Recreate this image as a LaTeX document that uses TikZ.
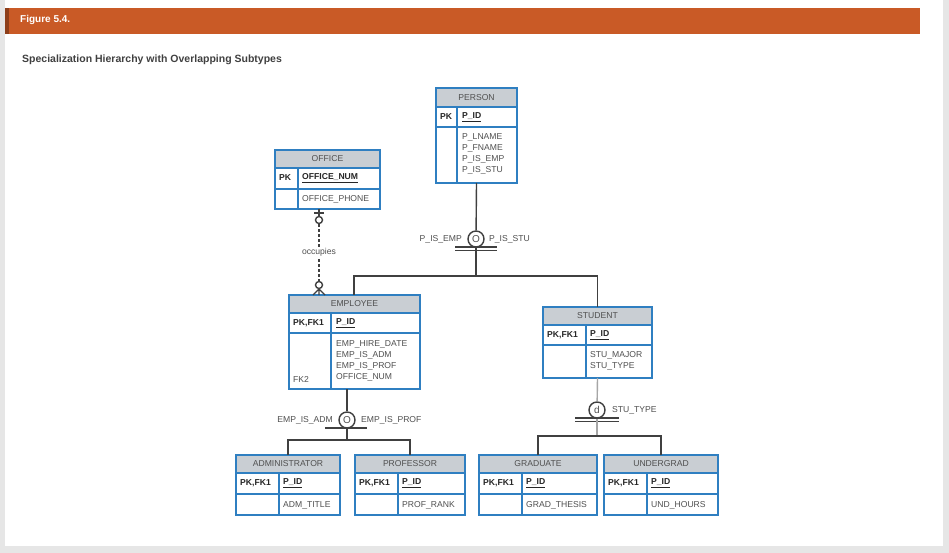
\documentclass[tikz,border=0pt]{standalone}
\usepackage{fontspec}
\setmainfont{Liberation Sans}
\usetikzlibrary{positioning}
\definecolor{eblue}{HTML}{2F7FC1}
\definecolor{ehead}{HTML}{C9CED3}
\definecolor{etxt}{HTML}{505050}
\definecolor{orng}{HTML}{C95A26}
\definecolor{lgray}{HTML}{E6E6E6}
\tikzset{
 box/.style={draw=eblue,line width=1.6pt},
 hdr/.style={fill=ehead},
 txt/.style={text=etxt,font=\fontsize{8.6}{11}\selectfont,inner sep=0pt},
 btxt/.style={txt,font=\fontsize{8.6}{11}\selectfont\bfseries,text=black!85},
 lnk/.style={draw=black!75,line width=1.4pt},
 circ/.style={circle,draw=black!75,line width=1.4pt,minimum size=16pt,inner sep=0pt,fill=white,text=etxt,font=\fontsize{10}{10}\selectfont},
 lbl/.style={txt,fill=white,inner sep=1pt}
}
\newcommand\myent[9]{%
 \fill[hdr] (#2,#3) rectangle (#4,#6);
 \draw[box] (#2,#3) rectangle (#4,#8);
 \draw[box] (#2,#6) -- (#4,#6) (#2,#7) -- (#4,#7) (#5,#6) -- (#5,#8);
 \node[txt] (#1) at ({(#2+#4)/2},{(#3+#6)/2}) {#9};
 \coordinate (#1-top) at ({(#2+#4)/2},#3);
 \coordinate (#1-bot) at ({(#2+#4)/2},#8);
}
\begin{document}
\begin{tikzpicture}[x=1pt,y=-1pt]
\useasboundingbox (0,0) rectangle (949,553);
\fill[lgray] (0,0) rectangle (949,553);
\fill[white] (5,0) rectangle (943,546);
\fill[orng] (5,8) rectangle (920,34);
\fill[orng!70!black] (5,8) rectangle (9,34);
\node[anchor=west,text=white,font=\fontsize{10}{10}\selectfont\bfseries,inner sep=0pt] (fig) at (20,20) {Figure 5.4.};
\node[anchor=west,text=black!75,font=\fontsize{10.5}{10.5}\selectfont\bfseries,inner sep=0pt] (ttl) at (22,60) {Specialization Hierarchy with Overlapping Subtypes};

\myent{person}{436}{88}{517}{457}{107}{127}{183}{PERSON}
\node[btxt,anchor=west] (p1) at (440,117) {PK};
\node[btxt,anchor=west] (p2) at (462,117) {\underline{P\_ID}};
\node[txt,anchor=north west,align=left] (p3) at (462,133) {P\_LNAME\\P\_FNAME\\P\_IS\_EMP\\P\_IS\_STU};
\myent{office}{275}{150}{380}{298}{168}{189}{209}{OFFICE}
\node[btxt,anchor=west] (o1) at (279,178) {PK};
\node[btxt,anchor=west] (o2) at (302,178) {\underline{OFFICE\_NUM}};
\node[txt,anchor=west] (o3) at (302,199) {OFFICE\_PHONE};
\myent{emp}{289}{295}{420}{331}{313}{333}{389}{EMPLOYEE}
\node[btxt,anchor=west] (e1) at (293,323) {PK,FK1};
\node[btxt,anchor=west] (e2) at (336,323) {\underline{P\_ID}};
\node[txt,anchor=north west,align=left] (e3) at (336,340) {EMP\_HIRE\_DATE\\EMP\_IS\_ADM\\EMP\_IS\_PROF\\OFFICE\_NUM};
\node[txt,anchor=west] (e4) at (293,379) {FK2};
\myent{stu}{543}{307}{652}{586}{325}{345}{378}{STUDENT}
\node[btxt,anchor=west] (s1) at (547,335) {PK,FK1};
\node[btxt,anchor=west] (s2) at (590,335) {\underline{P\_ID}};
\node[txt,anchor=north west,align=left] (s3) at (590,351) {STU\_MAJOR\\STU\_TYPE};
\myent{adm}{236}{455}{340}{279}{473}{494}{515}{ADMINISTRATOR}
\node[btxt,anchor=west] (a1) at (240,483) {PK,FK1};
\node[btxt,anchor=west] (a2) at (283,483) {\underline{P\_ID}};
\node[txt,anchor=west] (a3) at (283,505) {ADM\_TITLE};
\myent{prof}{355}{455}{465}{398}{473}{494}{515}{PROFESSOR}
\node[btxt,anchor=west] (r1) at (359,483) {PK,FK1};
\node[btxt,anchor=west] (r2) at (402,483) {\underline{P\_ID}};
\node[txt,anchor=west] (r3) at (402,505) {PROF\_RANK};
\myent{grad}{479}{455}{597}{522}{473}{494}{515}{GRADUATE}
\node[btxt,anchor=west] (g1) at (483,483) {PK,FK1};
\node[btxt,anchor=west] (g2) at (526,483) {\underline{P\_ID}};
\node[txt,anchor=west] (g3) at (526,505) {GRAD\_THESIS};
\myent{und}{604}{455}{718}{647}{473}{494}{515}{UNDERGRAD}
\node[btxt,anchor=west] (u1) at (608,483) {PK,FK1};
\node[btxt,anchor=west] (u2) at (651,483) {\underline{P\_ID}};
\node[txt,anchor=west] (u3) at (651,505) {UND\_HOURS};

\node[circ] (c1) at (476,239) {O};
\node[txt,anchor=east] (l1) at (462,239) {P\_IS\_EMP};
\node[txt,anchor=west] (l2) at (489,239) {P\_IS\_STU};
\draw[lnk] (person-bot) -- (c1);
\draw[lnk] (455,247) -- (497,247) (455,250.5) -- (497,250.5);
\coordinate (j1) at (476,276);
\draw[lnk] (c1) -- (j1);
\draw[lnk] (emp-top -| 354,0) |- (j1) -| (stu-top);

\draw[lnk,dash pattern=on 3pt off 2pt] (319,224) -- (319,281);
\draw[lnk] (314,213) -- (324,213) (319,209) -- (319,216);
\draw[lnk] (319,220) circle (3.5);
\draw[lnk] (319,285) circle (3.5);
\draw[lnk] (319,289) -- (319,295) (319,289) -- (313,295) (319,289) -- (325,295);
\node[lbl] (occ) at (319,252) {occupies};

\node[circ] (c2) at (347,420) {O};
\node[txt,anchor=east] (l3) at (333,420) {EMP\_IS\_ADM};
\node[txt,anchor=west] (l4) at (361,420) {EMP\_IS\_PROF};
\draw[lnk] (emp-bot -| 347,0) -- (c2);
\draw[lnk] (325,428) -- (367,428);
\coordinate (j2) at (347,440);
\draw[lnk] (c2) -- (j2);
\draw[lnk] (adm-top -| 288,0) |- (j2) -| (prof-top -| 410,0);

\node[circ] (c3) at (597,410) {d};
\node[txt,anchor=west] (l5) at (612,410) {STU\_TYPE};
\draw[lnk,draw=black!35] (stu-bot) -- (c3);
\draw[lnk] (575,418) -- (619,418) (575,421.5) -- (619,421.5);
\coordinate (j3) at (597,436);
\draw[lnk,draw=black!35] (c3) -- (j3);
\draw[lnk] (grad-top -| 538,0) |- (j3) -| (und-top -| 661,0);
\end{tikzpicture}
\end{document}
